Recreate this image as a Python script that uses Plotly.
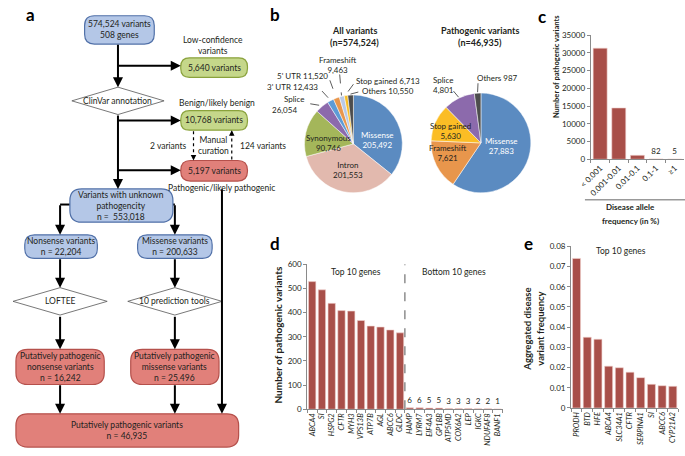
import math
import plotly.graph_objects as go

W, H = 685, 456
FONT = "Lato"
TXT = "#231f20"

# ---------------- data ----------------
# panel a (flowchart texts)
n_total = "574,524 variants<br>508 genes"
n_lowconf = "5,640 variants"
n_benign = "10,768 variants"
n_patho_clinvar = "5,197 variants"
n_unknown = "Variants with unknown<br>pathogencity<br>n =  553,018"
n_nonsense = "Nonsense variants<br>n = 22,204"
n_missense = "Missense variants<br>n = 200,633"
n_put_nonsense = "Putatively pathogenic<br>nonsense variants<br>n = 16,242"
n_put_missense = "Putatively pathogenic<br>missense variants<br>n = 25,496"
n_final = "Putatively pathogenic variants<br>n = 46,935"

# panel b
all_labels = ["Missense", "Intron", "Synonymous", "Splice", "3' UTR", "5' UTR",
              "Frameshift", "Stop gained", "Others"]
all_values = [205492, 201553, 90746, 26054, 12433, 11520, 9463, 6713, 10550]
all_colors = ["#5b8bc1", "#e2b9ae", "#a4b65a", "#8c6aac", "#5d9bd6", "#e8964c",
              "#b9c9e6", "#f8bd25", "#4d4d4d"]
path_labels = ["Missense", "Frameshift", "Stop gained", "Splice", "Others"]
path_values = [27883, 7621, 5630, 4801, 987]
path_colors = ["#5b8bc1", "#e8964c", "#fbbd25", "#8c6aac", "#4d4d4d"]

# panel c
freq_bins = ["< 0.001", "0.001-0.01", "0.01-0.1", "0.1-1", "\u22651"]
freq_counts = [31300, 14450, 1100, 82, 5]

# panel d
top_genes = ["ABCA4", "SI", "HSPG2", "CFTR", "MYH3", "VPS13B", "ATP7B", "AGL", "ABCC6", "GLDC"]
top_counts = [528, 494, 438, 408, 406, 367, 344, 340, 328, 316]
bottom_genes = ["HAMP", "LYRM7", "EIF4A3", "GP1BB", "ATP5MD", "COX6A2", "LEP", "IGKC", "NDUFAF8", "BANF1"]
bottom_counts = [6, 6, 5, 5, 3, 3, 3, 2, 2, 1]

# panel e
agg_genes = ["PRODH", "BTD", "HFE", "ABCA4", "SLC34A1", "CFTR", "SERPINA1", "SI", "ABCC6", "CYP21A2"]
agg_freq = [0.074, 0.035, 0.034, 0.0207, 0.0199, 0.0177, 0.0150, 0.0117, 0.0110, 0.0107]

BAR = "#a84f49"
BAR_EDGE = "#f2d4d0"
AXC = "#8a8a8a"


def X(px):
    return px / W


def Y(py):
    return 1 - py / H


shapes = []
annotations = []


def text(x, y, s, size=8.5, bold=False, color=TXT, xanchor="center", yanchor="middle", angle=0, italic=False):
    annotations.append(dict(
        x=X(x), y=Y(y), xref="paper", yref="paper", text=s, showarrow=False,
        xanchor=xanchor, yanchor=yanchor, textangle=angle,
        font=dict(family=FONT, size=size, color=color,
                  weight="bold" if bold else "normal",
                  style="italic" if italic else "normal")))


def line(x0, y0, x1, y1, color="black", width=2, dash="solid"):
    shapes.append(dict(type="line", xref="paper", yref="paper",
                       x0=X(x0), y0=Y(y0), x1=X(x1), y1=Y(y1),
                       line=dict(color=color, width=width, dash=dash)))


def arrow(tx, ty, hx, hy, width=2, head=2, size=1.0):
    annotations.append(dict(
        x=X(hx), y=Y(hy), xref="paper", yref="paper", axref="pixel", ayref="pixel",
        ax=tx - hx, ay=ty - hy, text="", showarrow=True, arrowhead=head,
        arrowsize=size, arrowwidth=width, arrowcolor="black", standoff=0, startstandoff=0))


def rrect(x0, y0, x1, y1, r, fill, border):
    p = (f"M {X(x0 + r)},{Y(y0)} L {X(x1 - r)},{Y(y0)} Q {X(x1)},{Y(y0)} {X(x1)},{Y(y0 + r)} "
         f"L {X(x1)},{Y(y1 - r)} Q {X(x1)},{Y(y1)} {X(x1 - r)},{Y(y1)} "
         f"L {X(x0 + r)},{Y(y1)} Q {X(x0)},{Y(y1)} {X(x0)},{Y(y1 - r)} "
         f"L {X(x0)},{Y(y0 + r)} Q {X(x0)},{Y(y0)} {X(x0 + r)},{Y(y0)} Z")
    shapes.append(dict(type="path", xref="paper", yref="paper", path=p,
                       fillcolor=fill, line=dict(color=border, width=1.2), layer="above"))


def diamond(cx, cy, hw, hh):
    p = f"M {X(cx - hw)},{Y(cy)} L {X(cx)},{Y(cy - hh)} L {X(cx + hw)},{Y(cy)} L {X(cx)},{Y(cy + hh)} Z"
    shapes.append(dict(type="path", xref="paper", yref="paper", path=p,
                       fillcolor="white", line=dict(color="#555555", width=0.8), layer="above"))


BLUE_F, BLUE_B = "#b4c7e7", "#5070a8"
GREEN_F, GREEN_B = "#c5d78a", "#8aa23c"
RED_F, RED_B = "#e1807a", "#b5504b"

# ---------------- panel a: flowchart ----------------
arrow(107, 40, 107, 84)
arrow(107, 62, 171, 62)
arrow(107, 113, 107, 188)
arrow(107, 118, 171, 118)
arrow(107, 169, 171, 169)
line(58, 204, 48, 204)
arrow(48, 204, 48, 235)
line(163, 204, 165, 204)
arrow(165, 204, 165, 235)
for cx in (48, 165):
    arrow(cx, 259, cx, 289)
    arrow(cx, 318, cx, 352)
    arrow(cx, 388, cx, 418)
arrow(213, 192, 213, 418)
# dotted manual curation arrows
line(184, 129, 184, 154, width=1.2, dash="dot")
arrow(184, 153, 184, 159, width=1.1)
line(223, 158, 223, 133, width=1.2, dash="dot")
arrow(223, 134, 223, 128, width=1.1)

rrect(73, 11, 144, 40, 10, BLUE_F, BLUE_B)
text(108.5, 25.5, n_total)
text(204, 41, "Low-confidence<br>variants")
rrect(171, 54, 239, 74, 9, GREEN_F, GREEN_B)
text(205, 64, n_lowconf)
diamond(107, 98, 47, 14)
text(107, 98, "ClinVar annotation")
text(208, 100, "Benign/likely benign")
rrect(171, 108, 239, 128, 9, GREEN_F, GREEN_B)
text(205, 118, n_benign)
text(179, 144, "2 variants", xanchor="right")
text(204, 144, "Manual<br>curation")
text(229, 144, "124 variants", xanchor="left")
rrect(171, 159, 239, 180, 10, RED_F, RED_B)
text(205, 169.5, n_patho_clinvar)
text(213, 187, "Pathogenic/likely pathogenic")
rrect(58, 188, 163, 222, 12, BLUE_F, BLUE_B)
text(110.5, 205, n_unknown)
rrect(12, 235, 86, 259, 10, BLUE_F, BLUE_B)
text(49, 247, n_nonsense)
rrect(127, 235, 203, 259, 10, BLUE_F, BLUE_B)
text(165, 247, n_missense)
diamond(48, 303, 48, 14)
text(48, 303, "LOFTEE")
diamond(165, 303, 48, 14)
text(165, 303, "10 prediction tools")
rrect(3, 352, 93, 388, 12, RED_F, RED_B)
text(48, 370, n_put_nonsense)
rrect(120, 352, 210, 388, 12, RED_F, RED_B)
text(165, 370, n_put_missense)
rrect(3, 418, 230, 452, 12, RED_F, RED_B)
text(116.5, 435, n_final)

# ---------------- panel b: pies ----------------
PIE_A = (347, 142, 50)
PIE_P = (477, 141, 51)


def pie_point(values, idx, cx, cy, r):
    tot = sum(values)
    cum = sum(values[:idx]) + values[idx] / 2
    th = 2 * math.pi * cum / tot
    return cx + r * math.sin(th), cy - r * math.cos(th)


traces = []
for vals, labs, cols, (cx, cy, r) in ((all_values, all_labels, all_colors, PIE_A),
                                      (path_values, path_labels, path_colors, PIE_P)):
    traces.append(go.Pie(labels=labs, values=vals, sort=False, direction="clockwise", rotation=0,
                         marker=dict(colors=cols, line=dict(color="white", width=0.5)),
                         textinfo="none", hoverinfo="skip", showlegend=False,
                         domain=dict(x=[X(cx - r), X(cx + r)], y=[Y(cy + r), Y(cy - r)])))

text(348, 26, "All variants", size=9, bold=True)
text(348, 38, "(n=574,524)", size=9, bold=True)
text(476, 26, "Pathogenic variants", size=9, bold=True)
text(476, 38, "(n=46,935)", size=9, bold=True)

# inside labels
text(372, 138, "Missense<br>205,492", size=8, color="white")
text(341, 169, "Intron<br>201,553", size=8)
text(322, 141, "Synonymous<br>90,746", size=8)
text(498, 144, "Missense<br>27,883", size=8, color="white")
text(443, 151, "Frameshift<br>7,621", size=8)
text(446, 129, "Stop gained<br>5,630", size=8)

# outside labels with leaders
leaders_a = [
    (3, (303, 101), lambda: text(300, 96, "Splice", size=8, xanchor="right") or text(292, 107, "26,054", size=8, xanchor="right")),
    (4, (315, 88), lambda: text(313, 84, "3' UTR 12,433", size=8, xanchor="right")),
    (5, (323, 77), lambda: text(323, 73, "5' UTR 11,520", size=8, xanchor="right")),
    (6, (333, 71), lambda: text(331, 61, "Frameshift<br>9,463", size=8)),
    (7, (347, 81), lambda: text(348, 78, "Stop gained 6,713", size=8, xanchor="left")),
    (8, (352, 89), lambda: text(354, 88, "Others 10,550", size=8, xanchor="left")),
]
for idx, (sx, sy), lab in leaders_a:
    ex, ey = pie_point(all_values, idx, *PIE_A[:2], PIE_A[2] + 1)
    line(sx, sy, ex, ey, color="#333333", width=0.8, dash="dash")
    lab()

leaders_p = [
    (3, (449, 88), lambda: text(439, 82, "Splice<br>4,801", size=8)),
    (4, (474, 80), lambda: text(471, 75, "Others 987", size=8, xanchor="left")),
]
for idx, (sx, sy), lab in leaders_p:
    ex, ey = pie_point(path_values, idx, *PIE_P[:2], PIE_P[2] + 1)
    line(sx, sy, ex, ey, color="#333333", width=0.8, dash="dash")
    lab()

# ---------------- panel c ----------------
traces.append(go.Bar(x=freq_bins, y=freq_counts, xaxis="x", yaxis="y",
                     marker=dict(color=BAR, line=dict(color=BAR_EDGE, width=0.6)),
                     text=["", "", "", str(freq_counts[3]), str(freq_counts[4])],
                     textposition="outside", cliponaxis=False,
                     textfont=dict(family=FONT, size=8, color=TXT), showlegend=False, hoverinfo="skip"))

# ---------------- panel d ----------------
d_genes = top_genes + bottom_genes
d_counts = top_counts + bottom_counts
traces.append(go.Bar(x=d_genes, y=d_counts, xaxis="x2", yaxis="y2",
                     marker=dict(color=BAR, line=dict(color=BAR_EDGE, width=0.6)),
                     text=[""] * len(top_counts) + [str(v) for v in bottom_counts],
                     textposition="outside", cliponaxis=False,
                     textfont=dict(family=FONT, size=8, color=TXT), showlegend=False, hoverinfo="skip"))
shapes.append(dict(type="line", xref="x2", yref="y2", x0=len(top_genes) - 0.5, x1=len(top_genes) - 0.5,
                   y0=0, y1=600, line=dict(color="#555555", width=1, dash="dash")))
annotations.append(dict(x=(len(top_genes) - 1) / 2, y=567, xref="x2", yref="y2", text="Top 10 genes",
                        showarrow=False, font=dict(family=FONT, size=8.5, color=TXT)))
annotations.append(dict(x=len(top_genes) + (len(bottom_genes) - 1) / 2, y=567, xref="x2", yref="y2",
                        text="Bottom 10 genes", showarrow=False, font=dict(family=FONT, size=8.5, color=TXT)))

# ---------------- panel e ----------------
traces.append(go.Bar(x=agg_genes, y=agg_freq, xaxis="x3", yaxis="y3",
                     marker=dict(color=BAR, line=dict(color=BAR_EDGE, width=0.6)),
                     showlegend=False, hoverinfo="skip"))
annotations.append(dict(x=4.2, y=0.0775, xref="x3", yref="y3", text="Top 10 genes",
                        showarrow=False, font=dict(family=FONT, size=8.5, color=TXT)))

# axis titles and panel letters
text(554, 63, "Number of pathogenic variants", size=7.5, bold=True, angle=-90)
line(583, 199, 685, 199, color="#999999", width=1.5)
text(629, 207, "Disease allele", size=8, bold=True)
text(629, 221, "frequency (in %)", size=8, bold=True)
text(270, 337, "Number of pathogenic variants", size=10, bold=True, angle=-90)
text(531, 331, "Aggregated disease<br>variant frequency", size=9.5, bold=True, angle=-90)
for lt, lx, ly in (("a", 18, 10), ("b", 267, 10), ("c", 539, 12), ("d", 267, 244), ("e", 525, 244)):
    text(lx, ly, lt, size=17, bold=True, color="black")

fig = go.Figure(traces)

ax_common = dict(showgrid=False, zeroline=False, showline=True, linecolor=AXC, linewidth=1.2,
                 ticks="outside", ticklen=3, tickcolor=AXC,
                 tickfont=dict(family=FONT, size=8, color=TXT))
ital = dict(family=FONT, size=7.5, color=TXT, style="italic")
fig.update_layout(
    width=W, height=H, margin=dict(l=0, r=0, t=0, b=0, pad=0),
    paper_bgcolor="white", plot_bgcolor="white", showlegend=False,
    font=dict(family=FONT, color=TXT),
    bargap=0.25,
    xaxis=dict(domain=[X(589), X(684)], anchor="y", type="category", tickangle=-45,
               tickson="boundaries", tickmode="array", tickvals=freq_bins, ticktext=freq_bins, **ax_common),
    yaxis=dict(domain=[Y(157.7), Y(30.7)], anchor="x", range=[0, 35000], dtick=5000,
               tickformat="d", **ax_common),
    xaxis2=dict(domain=[X(300), X(499)], anchor="y2", type="category", tickangle=-90,
                tickson="boundaries", tickmode="array", tickvals=d_genes, ticktext=d_genes,
                **{**ax_common, "tickfont": ital}),
    yaxis2=dict(domain=[Y(413.3), Y(265)], anchor="x2", range=[0, 600], dtick=100, **ax_common),
    xaxis3=dict(domain=[X(569), X(678)], anchor="y3", type="category", tickangle=-90,
                tickson="boundaries", tickmode="array", tickvals=agg_genes, ticktext=agg_genes,
                **{**ax_common, "tickfont": ital}),
    yaxis3=dict(domain=[Y(412), Y(246.7)], anchor="x3", range=[0, 0.08], dtick=0.01, **ax_common),
    shapes=shapes, annotations=annotations,
)

fig.write_html("out.html", post_script="document.body.style.margin='0';",
               config={"displayModeBar": False})
